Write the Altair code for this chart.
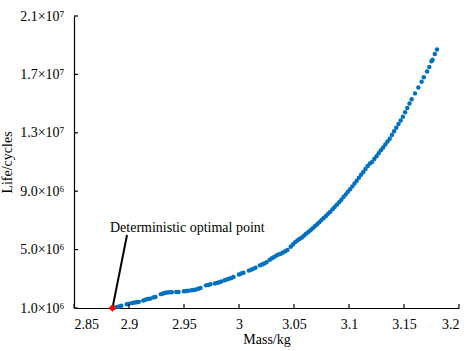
import altair as alt
import pandas as pd

# Pareto points: mass (kg) and life (millions of cycles)
mass = [
    2.887, 2.889, 2.891, 2.893,
    2.898, 2.900,
    2.903, 2.905, 2.907, 2.909,
    2.913, 2.915, 2.917, 2.919,
    2.922, 2.924,
    2.929, 2.931, 2.933, 2.935, 2.937, 2.939,
    2.943, 2.945,
    2.950, 2.952, 2.954,
    2.957, 2.959, 2.961, 2.963, 2.965,
    2.970, 2.972, 2.974,
    2.978, 2.980, 2.982, 2.984,
    2.987, 2.989, 2.991, 2.993, 2.995,
    3.000, 3.002, 3.004,
    3.009, 3.011, 3.013, 3.015,
    3.019, 3.021, 3.023, 3.025,
    3.028, 3.030, 3.032, 3.034, 3.036,
    3.038, 3.040, 3.042, 3.044,
    3.047, 3.049, 3.051, 3.053,
    3.055, 3.057, 3.059, 3.061, 3.063, 3.065, 3.067,
    3.069, 3.071, 3.073, 3.075, 3.077, 3.079, 3.081, 3.083, 3.085, 3.087,
    3.089, 3.091, 3.093, 3.095, 3.097, 3.099, 3.101, 3.103, 3.105, 3.107,
    3.109, 3.111, 3.113, 3.115, 3.117, 3.119, 3.121, 3.123, 3.125, 3.127,
    3.129, 3.131, 3.133, 3.135, 3.137, 3.139, 3.141, 3.143, 3.145, 3.147,
    3.149, 3.151, 3.153, 3.155, 3.157,
    3.160, 3.163, 3.166, 3.168, 3.171, 3.173, 3.175, 3.176, 3.178, 3.180,
]
life_millions = [
    1.03, 1.06, 1.10, 1.15,
    1.25, 1.30,
    1.34, 1.37, 1.40, 1.42,
    1.52, 1.56, 1.61, 1.64,
    1.72, 1.76,
    1.95, 2.00, 2.04, 2.06, 2.08, 2.08,
    2.10, 2.10,
    2.14, 2.16, 2.18,
    2.22, 2.24, 2.27, 2.32, 2.37,
    2.55, 2.58, 2.62,
    2.68, 2.72, 2.77, 2.82,
    2.90, 2.95, 3.00, 3.06, 3.12,
    3.30, 3.36, 3.42,
    3.56, 3.62, 3.68, 3.75,
    3.92, 3.98, 4.05, 4.14,
    4.30, 4.40, 4.50, 4.60, 4.66,
    4.72, 4.80, 4.88, 4.98,
    5.20, 5.35, 5.50, 5.62,
    5.72, 5.82, 5.95, 6.08, 6.20, 6.33, 6.46,
    6.60, 6.74, 6.88, 7.02, 7.16, 7.30, 7.45, 7.60, 7.76, 7.92,
    8.08, 8.24, 8.42, 8.60, 8.78, 8.96, 9.14, 9.33, 9.52, 9.72,
    9.92, 10.12, 10.32, 10.52, 10.72, 10.90, 11.00, 11.20, 11.40, 11.60,
    11.80, 12.00, 12.20, 12.40, 12.60, 12.85, 13.10, 13.35, 13.60, 13.85,
    14.10, 14.40, 14.70, 15.00, 15.30,
    15.70, 16.10, 16.50, 16.80, 17.20, 17.50, 17.90, 18.00, 18.40, 18.70,
]

# Deterministic optimal point and its annotation
opt_mass = [2.885]
opt_life = [1.0e6]
label_text = ["Deterministic optimal point"]
label_mass = [2.8827]
label_life = [6.2e6]
leader_mass = [2.8982]
leader_life = [6.0e6]

x_ticks = [2.85, 2.9, 2.95, 3.0, 3.05, 3.1, 3.15, 3.2]
y_ticks = [1.0e6, 5.0e6, 9.0e6, 1.3e7, 1.7e7, 2.1e7]

W, H = 385, 292
FONT = "Liberation Serif"

df = pd.DataFrame({"mass": mass, "life": [v * 1e6 for v in life_millions]})
opt_df = pd.DataFrame({"mass": opt_mass, "life": opt_life})
lead_df = pd.DataFrame({"m1": leader_mass, "l1": leader_life, "m2": opt_mass, "l2": opt_life})
lab_df = pd.DataFrame({"mass": label_mass, "life": label_life, "text": label_text})
xt_df = pd.DataFrame({"t": x_ticks})
yt_df = pd.DataFrame({"t": y_ticks})

xscale = alt.Scale(domain=[2.85, 3.2], nice=False, zero=False)
yscale = alt.Scale(domain=[1.0e6, 2.1e7], nice=False, zero=False)

ylabel_expr = (
    "datum.value < 1e7 ? format(datum.value/1e6, '.1f') + '×10⁶' "
    ": format(datum.value/1e7, '.1f') + '×10⁷'"
)

points = alt.Chart(df).mark_circle(size=20, color="#0070C0", opacity=1).encode(
    x=alt.X("mass:Q", scale=xscale,
            axis=alt.Axis(values=x_ticks, title="Mass/kg", format="~g",
                          tickSize=0, labelPadding=9, titlePadding=1)),
    y=alt.Y("life:Q", scale=yscale,
            axis=alt.Axis(values=y_ticks, title="Life/cycles", labelExpr=ylabel_expr,
                          tickSize=0, labelPadding=10, titlePadding=5)),
)

xticks = alt.Chart(xt_df).mark_rule(color="black", strokeWidth=1.2).encode(
    x=alt.X("t:Q", scale=xscale), y=alt.value(H), y2=alt.value(H - 4)
)
yticks = alt.Chart(yt_df).mark_rule(color="black", strokeWidth=1.2).encode(
    y=alt.Y("t:Q", scale=yscale), x=alt.value(0), x2=alt.value(4)
)

leader = alt.Chart(lead_df).mark_rule(color="black", strokeWidth=2).encode(
    x=alt.X("m1:Q", scale=xscale), y=alt.Y("l1:Q", scale=yscale),
    x2="m2:Q", y2="l2:Q",
)

opt = alt.Chart(opt_df).mark_point(shape="diamond", filled=True, color="#FF0000",
                                   size=60, opacity=1).encode(
    x=alt.X("mass:Q", scale=xscale), y=alt.Y("life:Q", scale=yscale)
)

label = alt.Chart(lab_df).mark_text(align="left", baseline="alphabetic",
                                    font=FONT, fontSize=14, color="black").encode(
    x=alt.X("mass:Q", scale=xscale), y=alt.Y("life:Q", scale=yscale), text="text:N"
)

chart = alt.layer(points, xticks, yticks, leader, opt, label).properties(
    width=W, height=H,
    autosize=alt.AutoSizeParams(type="none"),
    padding={"left": 74, "top": 16, "right": 15, "bottom": 43},
).configure_view(stroke=None).configure_axis(
    grid=False, domainColor="black", domainWidth=1.2,
    labelFont=FONT, titleFont=FONT, labelFontSize=14, titleFontSize=14,
    labelColor="black", titleColor="black", titleFontWeight="normal",
)

chart.save("out.html", embed_options={"renderer": "svg", "actions": False})
